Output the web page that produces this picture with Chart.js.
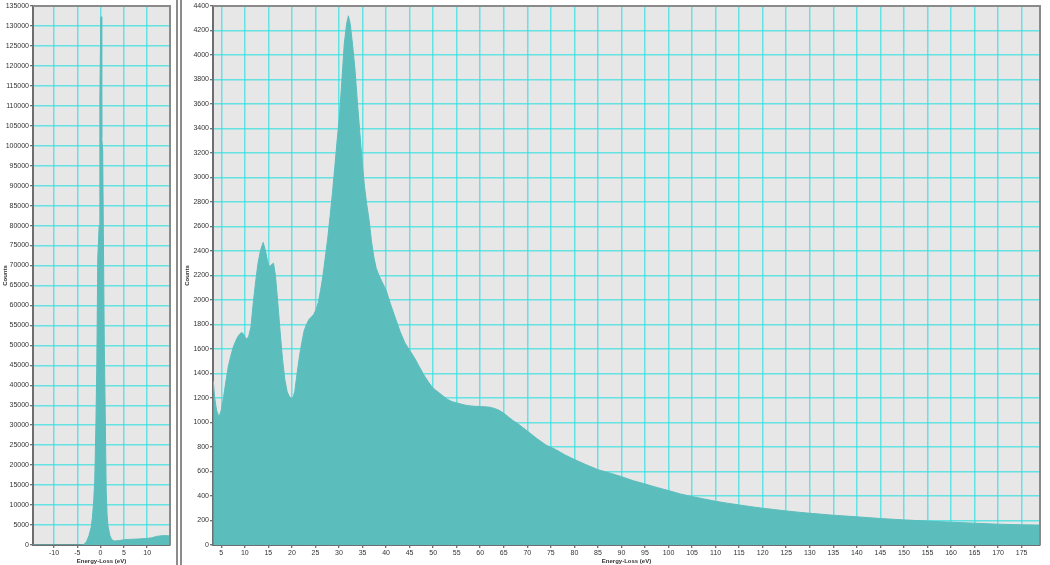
<!DOCTYPE html>
<html>
<head>
<meta charset="utf-8">
<script src="https://cdn.jsdelivr.net/npm/chart.js@4.4.1/dist/chart.umd.min.js"></script>
<style>
    body { margin: 0; background: #ffffff; }
    #wrap { position: relative; width: 1050px; height: 565px; overflow: hidden; }
    canvas { position: absolute; top: 0; }
    .sep { position: absolute; top: 0; width: 2px; height: 565px; background: #8c8c8c; }
</style>
</head>
<body>
<div id="wrap">
    <canvas id="zeroLossChart" width="176" height="565" style="left:0"></canvas>
    <div class="sep" style="left:176px"></div>
    <div class="sep" style="left:180px"></div>
    <canvas id="lowLossChart" width="868" height="565" style="left:182px"></canvas>
</div>
<script>
// Zero-loss panel (left)
const zeroEnergy = [-14.5, -5, -4, -3.5, -3, -2.5, -2, -1.75, -1.5, -1.25, -1, -0.8, -0.6, -0.45, -0.3, -0.15,
    0, 0.1, 0.2, 0.3, 0.45, 0.6, 0.8, 1.0, 1.2, 1.4, 1.6, 2.0, 2.4, 3, 4, 5, 6, 8, 10, 11, 12, 13, 14, 15];
const zeroCounts = [0, 0, 50, 200, 900, 2300, 4500, 7000, 10500, 16000, 30000, 46000, 72000, 76000, 80000, 112000,
    127000, 132300, 121000, 102000, 99000, 78000, 50000, 33000, 14000, 7500, 4700, 2400, 1300, 1000, 1100, 1300, 1400, 1500, 1650, 1800, 2150, 2300, 2350, 2250];

// Low-loss panel (right)
const lossEnergy = [3.3, 3.6, 4.0, 4.5, 5.0, 5.5, 6.0, 6.5, 7.0, 7.5, 8.0, 8.5, 9.0, 9.4, 9.8, 10.3, 10.8, 11.3, 11.8, 12.3,
    12.8, 13.3, 13.9, 14.4, 14.8, 15.2, 15.7, 16.1, 16.5, 17.0, 17.5, 18.0, 18.5, 19.0, 19.5, 20.1, 20.6, 21.1, 21.6, 22.1,
    22.6, 23.1, 23.6, 24.1, 24.6, 25.1, 25.6, 26.1, 26.6, 27.1, 27.6, 28.1, 28.6, 29.1, 29.6, 30.1, 30.6, 31.1, 31.6, 32.0,
    32.4, 32.9, 33.4, 33.9, 34.4, 34.9, 35.4, 35.9, 36.4, 36.9, 37.4, 37.9, 38.5, 39.0, 40, 41, 42, 43, 44, 45,
    46, 47, 48, 49, 50, 51, 52, 53, 54, 55, 56, 57, 58, 59, 60, 61, 62, 63, 64, 65,
    66, 67, 68, 70, 72, 74, 76, 78, 80, 82.5, 85, 87.5, 90, 92.5, 95, 97.5, 100, 102.5, 105, 107.5,
    110, 112.5, 115, 117.5, 120, 122.5, 125, 127.5, 130, 135, 140, 145, 150, 155, 160, 165, 170, 175, 179];
const lossCounts = [1340, 1200, 1100, 1045, 1100, 1210, 1340, 1460, 1540, 1610, 1660, 1700, 1725, 1735, 1715, 1680, 1700, 1780, 1980, 2150,
    2300, 2400, 2470, 2400, 2320, 2270, 2290, 2300, 2200, 1980, 1740, 1520, 1350, 1250, 1210, 1190, 1250, 1400, 1540, 1650,
    1750, 1800, 1840, 1860, 1880, 1920, 1980, 2080, 2200, 2350, 2500, 2680, 2870, 3080, 3300, 3500, 3780, 4080, 4250, 4320,
    4250, 4080, 3880, 3620, 3380, 3140, 2930, 2780, 2650, 2480, 2350, 2260, 2200, 2160, 2080, 1960, 1850, 1740, 1650, 1590,
    1530, 1460, 1390, 1330, 1280, 1250, 1220, 1190, 1170, 1160, 1150, 1140, 1135, 1132, 1130, 1128, 1125, 1115, 1100, 1075,
    1045, 1015, 990, 930, 870, 815, 780, 735, 698, 655, 615, 588, 558, 525, 498, 470, 444, 417, 395, 376,
    357, 341, 327, 313, 300, 289, 278, 268, 259, 243, 230, 216, 205, 195, 186, 178, 170, 165, 163];

// Axis ranges and tick spacing
const zeroXRange = [-14.5, 14.9];
const zeroYRange = [0, 135000];
const lossXRange = [3.24, 178.9];
const lossYRange = [0, 4400];
const xStep = 5;
const zeroYStep = 5000;
const lossYStep = 200;

const fillColor = '#5cbdbd';
const gridColor = 'rgba(45, 224, 224, 0.7)';
const labelFont = { family: 'Liberation Sans', size: 7 };
const titleFont = { family: 'Liberation Sans', size: 6, weight: 'bold' };

// Grey plot background and frame lines
const framePlugin = {
    id: 'frame',
    beforeDraw(chart) {
        const a = chart.chartArea;
        const ctx = chart.ctx;
        ctx.save();
        ctx.fillStyle = '#e7e7e7';
        ctx.fillRect(a.left, a.top, a.right - a.left, a.bottom - a.top);
        ctx.restore();
    },
    afterDraw(chart) {
        const a = chart.chartArea;
        const ctx = chart.ctx;
        ctx.save();
        ctx.strokeStyle = '#8a8a8a';
        ctx.lineWidth = 2;
        ctx.beginPath();
        ctx.moveTo(a.left, a.top);
        ctx.lineTo(a.right, a.top);
        ctx.lineTo(a.right, a.bottom);
        ctx.stroke();
        ctx.restore();
    }
};

function makeSpectrum(canvasId, energy, counts, xRange, yRange, yStep, yAxisWidth, padRight) {
    return new Chart(document.getElementById(canvasId).getContext('2d'), {
        type: 'line',
        data: {
            datasets: [{
                data: energy.map((e, i) => ({ x: e, y: counts[i] })),
                borderColor: fillColor,
                backgroundColor: fillColor,
                borderWidth: 1,
                pointRadius: 0,
                tension: 0,
                fill: 'origin'
            }]
        },
        options: {
            responsive: false,
            animation: false,
            devicePixelRatio: 1,
            layout: { padding: { top: 6, right: padRight, left: 0, bottom: 0 } },
            plugins: { legend: { display: false }, tooltip: { enabled: false } },
            scales: {
                x: {
                    type: 'linear',
                    min: xRange[0],
                    max: xRange[1],
                    afterFit: function(scale) { scale.height = 20; },
                    grid: { color: gridColor, lineWidth: 1.5, tickColor: '#444', tickWidth: 1, tickLength: 3 },
                    border: { color: '#6e6e6e', width: 2 },
                    ticks: {
                        stepSize: xStep,
                        includeBounds: false,
                        autoSkip: false,
                        maxRotation: 0,
                        padding: 1,
                        color: '#333',
                        font: labelFont,
                        callback: v => String(v)
                    },
                    title: {
                        display: true,
                        text: 'Energy-Loss (eV)',
                        color: '#333',
                        font: titleFont,
                        padding: { top: 0, bottom: 0.5 }
                    }
                },
                y: {
                    min: yRange[0],
                    max: yRange[1],
                    afterFit: function(scale) { scale.width = yAxisWidth; },
                    grid: { color: gridColor, lineWidth: 1.5, tickColor: '#444', tickWidth: 1, tickLength: 3 },
                    border: { color: '#6e6e6e', width: 2 },
                    ticks: {
                        stepSize: yStep,
                        autoSkip: false,
                        padding: 1,
                        color: '#333',
                        font: labelFont,
                        callback: v => String(v)
                    },
                    title: {
                        display: true,
                        text: 'Counts',
                        color: '#333',
                        font: titleFont,
                        padding: { top: 1.5, bottom: 0 }
                    }
                }
            }
        },
        plugins: [framePlugin]
    });
}

makeSpectrum('zeroLossChart', zeroEnergy, zeroCounts, zeroXRange, zeroYRange, zeroYStep, 33, 6);
makeSpectrum('lowLossChart', lossEnergy, lossCounts, lossXRange, lossYRange, lossYStep, 31, 10);
</script>
</body>
</html>
